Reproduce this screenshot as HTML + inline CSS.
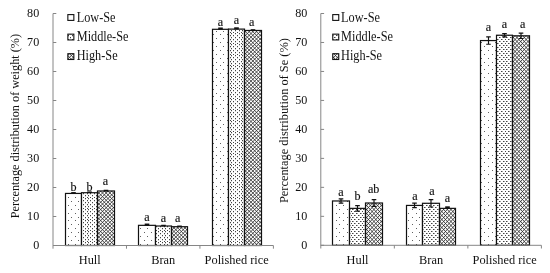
<!DOCTYPE html>
<html><head><meta charset="utf-8"><title>Percentage distribution</title>
<style>
html,body{margin:0;padding:0;background:#fff;}
svg{display:block}
text{font-family:"Liberation Serif","Times New Roman",serif;font-size:12.1px;fill:#111;}
.bl{stroke:#111;stroke-width:0.15px;}
</style></head><body>
<svg width="550" height="273" viewBox="0 0 550 273">
<defs>
<pattern id="L0" width="29" height="31" patternUnits="userSpaceOnUse" x="1" y="2"><rect width="29" height="31" fill="#fff"/><path d="M1,1h1v1h-1zM1,9h1v1h-1zM1,17h1v1h-1zM1,25h1v1h-1zM5,5h1v1h-1zM5,13h1v1h-1zM5,21h1v1h-1zM5,29h1v1h-1zM9,1h1v1h-1zM9,9h1v1h-1zM9,17h1v1h-1zM9,25h1v1h-1zM12,5h1v1h-1zM12,13h1v1h-1zM12,21h1v1h-1zM12,29h1v1h-1zM16,1h1v1h-1zM16,9h1v1h-1zM16,17h1v1h-1zM16,25h1v1h-1zM19,5h1v1h-1zM19,13h1v1h-1zM19,21h1v1h-1zM19,29h1v1h-1zM23,1h1v1h-1zM23,9h1v1h-1zM23,17h1v1h-1zM23,25h1v1h-1zM27,5h1v1h-1zM27,13h1v1h-1zM27,21h1v1h-1zM27,29h1v1h-1z" fill="#606060"/></pattern>
<pattern id="L1" width="11" height="11" patternUnits="userSpaceOnUse" x="0" y="0"><rect width="11" height="11" fill="#fff"/><path d="M0,0h1v1.2h-1zM0,4h1v1.2h-1zM0,8h1v1.2h-1zM2,2h1v1.2h-1zM2,6h1v1.2h-1zM2,10h1v1.2h-1zM4,0h1v1.2h-1zM4,4h1v1.2h-1zM4,8h1v1.2h-1zM6,2h1v1.2h-1zM6,6h1v1.2h-1zM6,10h1v1.2h-1zM8,0h1v1.2h-1zM8,4h1v1.2h-1zM8,8h1v1.2h-1zM10,2h1v1.2h-1zM10,6h1v1.2h-1zM10,10h1v1.2h-1z" fill="#444"/></pattern>
<pattern id="R0" width="29" height="31" patternUnits="userSpaceOnUse" x="1" y="2"><rect width="29" height="31" fill="#fff"/><path d="M1,1h1v1h-1zM1,9h1v1h-1zM1,17h1v1h-1zM1,25h1v1h-1zM5,5h1v1h-1zM5,13h1v1h-1zM5,21h1v1h-1zM5,29h1v1h-1zM9,1h1v1h-1zM9,9h1v1h-1zM9,17h1v1h-1zM9,25h1v1h-1zM12,5h1v1h-1zM12,13h1v1h-1zM12,21h1v1h-1zM12,29h1v1h-1zM16,1h1v1h-1zM16,9h1v1h-1zM16,17h1v1h-1zM16,25h1v1h-1zM19,5h1v1h-1zM19,13h1v1h-1zM19,21h1v1h-1zM19,29h1v1h-1zM23,1h1v1h-1zM23,9h1v1h-1zM23,17h1v1h-1zM23,25h1v1h-1zM27,5h1v1h-1zM27,13h1v1h-1zM27,21h1v1h-1zM27,29h1v1h-1z" fill="#606060"/></pattern>
<pattern id="R1" width="11" height="4" patternUnits="userSpaceOnUse" x="0" y="0"><rect width="11" height="4" fill="#fff"/><path d="M0,1h1.5v1h-1.5zM2,3h1.5v1h-1.5zM4,1h1.5v1h-1.5zM6,3h1.5v1h-1.5zM8,1h1.5v1h-1.5zM10,3h1.5v1h-1.5z" fill="#444"/></pattern></defs>
<rect width="550" height="273" fill="#fff"/>
<clipPath id="Lc"><rect x="97.50" y="190.98" width="17.00" height="54.52"/><rect x="171.50" y="226.71" width="16.00" height="18.79"/><rect x="244.50" y="30.47" width="17.00" height="215.03"/><rect x="67.85" y="53.70" width="6.0" height="5.8"/></clipPath><path d="M-185.33,11.50L53.00,249.83M-181.67,11.50L56.67,249.83M-178.00,11.50L60.33,249.83M-174.33,11.50L64.00,249.83M-170.67,11.50L67.67,249.83M-167.00,11.50L71.33,249.83M-163.33,11.50L75.00,249.83M-159.67,11.50L78.67,249.83M-156.00,11.50L82.33,249.83M-152.33,11.50L86.00,249.83M-148.67,11.50L89.67,249.83M-145.00,11.50L93.33,249.83M-141.33,11.50L97.00,249.83M-137.67,11.50L100.67,249.83M-134.00,11.50L104.33,249.83M-130.33,11.50L108.00,249.83M-126.67,11.50L111.67,249.83M-123.00,11.50L115.33,249.83M-119.33,11.50L119.00,249.83M-115.67,11.50L122.67,249.83M-112.00,11.50L126.33,249.83M-108.33,11.50L130.00,249.83M-104.67,11.50L133.67,249.83M-101.00,11.50L137.33,249.83M-97.33,11.50L141.00,249.83M-93.67,11.50L144.67,249.83M-90.00,11.50L148.33,249.83M-86.33,11.50L152.00,249.83M-82.67,11.50L155.67,249.83M-79.00,11.50L159.33,249.83M-75.33,11.50L163.00,249.83M-71.67,11.50L166.67,249.83M-68.00,11.50L170.33,249.83M-64.33,11.50L174.00,249.83M-60.67,11.50L177.67,249.83M-57.00,11.50L181.33,249.83M-53.33,11.50L185.00,249.83M-49.67,11.50L188.67,249.83M-46.00,11.50L192.33,249.83M-42.33,11.50L196.00,249.83M-38.67,11.50L199.67,249.83M-35.00,11.50L203.33,249.83M-31.33,11.50L207.00,249.83M-27.67,11.50L210.67,249.83M-24.00,11.50L214.33,249.83M-20.33,11.50L218.00,249.83M-16.67,11.50L221.67,249.83M-13.00,11.50L225.33,249.83M-9.33,11.50L229.00,249.83M-5.67,11.50L232.67,249.83M-2.00,11.50L236.33,249.83M1.67,11.50L240.00,249.83M5.33,11.50L243.67,249.83M9.00,11.50L247.33,249.83M12.67,11.50L251.00,249.83M16.33,11.50L254.67,249.83M20.00,11.50L258.33,249.83M23.67,11.50L262.00,249.83M27.33,11.50L265.67,249.83M31.00,11.50L269.33,249.83M34.67,11.50L273.00,249.83M38.33,11.50L276.67,249.83M42.00,11.50L280.33,249.83M45.67,11.50L284.00,249.83M49.33,11.50L287.67,249.83M53.00,11.50L291.33,249.83M53.00,11.50L-185.33,249.83M56.67,11.50L295.00,249.83M56.67,11.50L-181.67,249.83M60.33,11.50L298.67,249.83M60.33,11.50L-178.00,249.83M64.00,11.50L302.33,249.83M64.00,11.50L-174.33,249.83M67.67,11.50L306.00,249.83M67.67,11.50L-170.67,249.83M71.33,11.50L309.67,249.83M71.33,11.50L-167.00,249.83M75.00,11.50L313.33,249.83M75.00,11.50L-163.33,249.83M78.67,11.50L317.00,249.83M78.67,11.50L-159.67,249.83M82.33,11.50L320.67,249.83M82.33,11.50L-156.00,249.83M86.00,11.50L324.33,249.83M86.00,11.50L-152.33,249.83M89.67,11.50L328.00,249.83M89.67,11.50L-148.67,249.83M93.33,11.50L331.67,249.83M93.33,11.50L-145.00,249.83M97.00,11.50L335.33,249.83M97.00,11.50L-141.33,249.83M100.67,11.50L339.00,249.83M100.67,11.50L-137.67,249.83M104.33,11.50L342.67,249.83M104.33,11.50L-134.00,249.83M108.00,11.50L346.33,249.83M108.00,11.50L-130.33,249.83M111.67,11.50L350.00,249.83M111.67,11.50L-126.67,249.83M115.33,11.50L353.67,249.83M115.33,11.50L-123.00,249.83M119.00,11.50L357.33,249.83M119.00,11.50L-119.33,249.83M122.67,11.50L361.00,249.83M122.67,11.50L-115.67,249.83M126.33,11.50L364.67,249.83M126.33,11.50L-112.00,249.83M130.00,11.50L368.33,249.83M130.00,11.50L-108.33,249.83M133.67,11.50L372.00,249.83M133.67,11.50L-104.67,249.83M137.33,11.50L375.67,249.83M137.33,11.50L-101.00,249.83M141.00,11.50L379.33,249.83M141.00,11.50L-97.33,249.83M144.67,11.50L383.00,249.83M144.67,11.50L-93.67,249.83M148.33,11.50L386.67,249.83M148.33,11.50L-90.00,249.83M152.00,11.50L390.33,249.83M152.00,11.50L-86.33,249.83M155.67,11.50L394.00,249.83M155.67,11.50L-82.67,249.83M159.33,11.50L397.67,249.83M159.33,11.50L-79.00,249.83M163.00,11.50L401.33,249.83M163.00,11.50L-75.33,249.83M166.67,11.50L405.00,249.83M166.67,11.50L-71.67,249.83M170.33,11.50L408.67,249.83M170.33,11.50L-68.00,249.83M174.00,11.50L412.33,249.83M174.00,11.50L-64.33,249.83M177.67,11.50L416.00,249.83M177.67,11.50L-60.67,249.83M181.33,11.50L419.67,249.83M181.33,11.50L-57.00,249.83M185.00,11.50L423.33,249.83M185.00,11.50L-53.33,249.83M188.67,11.50L427.00,249.83M188.67,11.50L-49.67,249.83M192.33,11.50L430.67,249.83M192.33,11.50L-46.00,249.83M196.00,11.50L434.33,249.83M196.00,11.50L-42.33,249.83M199.67,11.50L438.00,249.83M199.67,11.50L-38.67,249.83M203.33,11.50L441.67,249.83M203.33,11.50L-35.00,249.83M207.00,11.50L445.33,249.83M207.00,11.50L-31.33,249.83M210.67,11.50L449.00,249.83M210.67,11.50L-27.67,249.83M214.33,11.50L452.67,249.83M214.33,11.50L-24.00,249.83M218.00,11.50L456.33,249.83M218.00,11.50L-20.33,249.83M221.67,11.50L460.00,249.83M221.67,11.50L-16.67,249.83M225.33,11.50L463.67,249.83M225.33,11.50L-13.00,249.83M229.00,11.50L467.33,249.83M229.00,11.50L-9.33,249.83M232.67,11.50L471.00,249.83M232.67,11.50L-5.67,249.83M236.33,11.50L474.67,249.83M236.33,11.50L-2.00,249.83M240.00,11.50L478.33,249.83M240.00,11.50L1.67,249.83M243.67,11.50L482.00,249.83M243.67,11.50L5.33,249.83M247.33,11.50L485.67,249.83M247.33,11.50L9.00,249.83M251.00,11.50L489.33,249.83M251.00,11.50L12.67,249.83M254.67,11.50L493.00,249.83M254.67,11.50L16.33,249.83M258.33,11.50L496.67,249.83M258.33,11.50L20.00,249.83M262.00,11.50L500.33,249.83M262.00,11.50L23.67,249.83M265.67,11.50L504.00,249.83M265.67,11.50L27.33,249.83M269.33,11.50L507.67,249.83M269.33,11.50L31.00,249.83M273.00,11.50L511.33,249.83M273.00,11.50L34.67,249.83M276.67,11.50L38.33,249.83M280.33,11.50L42.00,249.83M284.00,11.50L45.67,249.83M287.67,11.50L49.33,249.83M291.33,11.50L53.00,249.83M295.00,11.50L56.67,249.83M298.67,11.50L60.33,249.83M302.33,11.50L64.00,249.83M306.00,11.50L67.67,249.83M309.67,11.50L71.33,249.83M313.33,11.50L75.00,249.83M317.00,11.50L78.67,249.83M320.67,11.50L82.33,249.83M324.33,11.50L86.00,249.83M328.00,11.50L89.67,249.83M331.67,11.50L93.33,249.83M335.33,11.50L97.00,249.83M339.00,11.50L100.67,249.83M342.67,11.50L104.33,249.83M346.33,11.50L108.00,249.83M350.00,11.50L111.67,249.83M353.67,11.50L115.33,249.83M357.33,11.50L119.00,249.83M361.00,11.50L122.67,249.83M364.67,11.50L126.33,249.83M368.33,11.50L130.00,249.83M372.00,11.50L133.67,249.83M375.67,11.50L137.33,249.83M379.33,11.50L141.00,249.83M383.00,11.50L144.67,249.83M386.67,11.50L148.33,249.83M390.33,11.50L152.00,249.83M394.00,11.50L155.67,249.83M397.67,11.50L159.33,249.83M401.33,11.50L163.00,249.83M405.00,11.50L166.67,249.83M408.67,11.50L170.33,249.83M412.33,11.50L174.00,249.83M416.00,11.50L177.67,249.83M419.67,11.50L181.33,249.83M423.33,11.50L185.00,249.83M427.00,11.50L188.67,249.83M430.67,11.50L192.33,249.83M434.33,11.50L196.00,249.83M438.00,11.50L199.67,249.83M441.67,11.50L203.33,249.83M445.33,11.50L207.00,249.83M449.00,11.50L210.67,249.83M452.67,11.50L214.33,249.83M456.33,11.50L218.00,249.83M460.00,11.50L221.67,249.83M463.67,11.50L225.33,249.83M467.33,11.50L229.00,249.83M471.00,11.50L232.67,249.83M474.67,11.50L236.33,249.83M478.33,11.50L240.00,249.83M482.00,11.50L243.67,249.83M485.67,11.50L247.33,249.83M489.33,11.50L251.00,249.83M493.00,11.50L254.67,249.83M496.67,11.50L258.33,249.83M500.33,11.50L262.00,249.83M504.00,11.50L265.67,249.83M507.67,11.50L269.33,249.83M511.33,11.50L273.00,249.83" clip-path="url(#Lc)" stroke="#2a2a2a" stroke-width="0.85" fill="none"/>
<rect x="65.50" y="193.44" width="16.00" height="52.06" fill="url(#L0)" stroke="#111" stroke-width="1.2"/>
<rect x="71.20" y="192.06" width="4.6" height="1.74" fill="#111" stroke="none"/>
<text x="73.50" y="190.50" text-anchor="middle" class="bl">b</text>
<rect x="81.50" y="192.72" width="16.00" height="52.78" fill="url(#L1)" stroke="#111" stroke-width="1.2"/>
<rect x="87.20" y="191.42" width="4.6" height="1.65" fill="#111" stroke="none"/>
<text x="89.50" y="190.60" text-anchor="middle" class="bl">b</text>
<rect x="97.50" y="190.98" width="17.00" height="54.52" fill="none" stroke="#111" stroke-width="1.2"/>
<rect x="103.70" y="189.74" width="4.6" height="1.59" fill="#111" stroke="none"/>
<text x="105.50" y="184.90" text-anchor="middle" class="bl">a</text>
<rect x="138.50" y="225.34" width="17.00" height="20.16" fill="url(#L0)" stroke="#111" stroke-width="1.2"/>
<rect x="144.70" y="223.53" width="4.6" height="2.17" fill="#111" stroke="none"/>
<text x="147.00" y="220.50" text-anchor="middle" class="bl">a</text>
<rect x="155.50" y="226.01" width="16.00" height="19.49" fill="url(#L1)" stroke="#111" stroke-width="1.2"/>
<rect x="161.20" y="224.77" width="4.6" height="1.59" fill="#111" stroke="none"/>
<text x="163.50" y="222.20" text-anchor="middle" class="bl">a</text>
<rect x="171.50" y="226.71" width="16.00" height="18.79" fill="none" stroke="#111" stroke-width="1.2"/>
<rect x="177.20" y="225.53" width="4.6" height="1.53" fill="#111" stroke="none"/>
<text x="177.70" y="221.70" text-anchor="middle" class="bl">a</text>
<rect x="212.50" y="29.31" width="16.00" height="216.19" fill="url(#L0)" stroke="#111" stroke-width="1.2"/>
<rect x="218.20" y="27.49" width="4.6" height="2.17" fill="#111" stroke="none"/>
<text x="220.50" y="25.60" text-anchor="middle" class="bl">a</text>
<rect x="228.50" y="29.10" width="16.00" height="216.40" fill="url(#L1)" stroke="#111" stroke-width="1.2"/>
<rect x="234.20" y="27.28" width="4.6" height="2.17" fill="#111" stroke="none"/>
<text x="236.50" y="23.90" text-anchor="middle" class="bl">a</text>
<rect x="244.50" y="30.47" width="17.00" height="215.03" fill="none" stroke="#111" stroke-width="1.2"/>
<rect x="250.70" y="29.17" width="4.6" height="1.65" fill="#111" stroke="none"/>
<text x="251.80" y="26.20" text-anchor="middle" class="bl">a</text>
<path d="M53.0,13.5V248.7M53.0,245.5H273.4" stroke="#868686" stroke-width="1" fill="none"/>
<text x="39.2" y="249.05" text-anchor="end">0</text>
<text x="39.2" y="220.05" text-anchor="end">10</text>
<text x="39.2" y="191.05" text-anchor="end">20</text>
<text x="39.2" y="162.05" text-anchor="end">30</text>
<text x="39.2" y="133.05" text-anchor="end">40</text>
<text x="39.2" y="104.05" text-anchor="end">50</text>
<text x="39.2" y="75.05" text-anchor="end">60</text>
<text x="39.2" y="46.05" text-anchor="end">70</text>
<text x="39.2" y="17.05" text-anchor="end">80</text>
<path d="M53.0,245.50h3.3M53.0,216.50h3.3M53.0,187.50h3.3M53.0,158.50h3.3M53.0,129.50h3.3M53.0,100.50h3.3M53.0,71.50h3.3M53.0,42.50h3.3M53.0,13.50h3.3M126.47,245.5v3.2M199.93,245.5v3.2M273.40,245.5v3.2" stroke="#868686" stroke-width="1" fill="none"/>
<text x="89.73" y="264.0" text-anchor="middle" style="font-size:12.35px">Hull</text>
<text x="163.20" y="264.0" text-anchor="middle" style="font-size:12.35px">Bran</text>
<text x="236.67" y="264.0" text-anchor="middle" style="font-size:12.35px">Polished rice</text>
<text transform="translate(19.2,126.1) rotate(-90)" text-anchor="middle" style="font-size:12.25px">Percentage distribution of weight (%)</text>
<rect x="67.85" y="14.60" width="6.0" height="5.8" fill="#fff" stroke="#111" stroke-width="1.1"/>
<text transform="translate(76.75,22.25) scale(1,1.12)" style="font-size:12.25px">Low-Se</text>
<rect x="67.85" y="34.15" width="6.0" height="5.8" fill="url(#L1)" stroke="#111" stroke-width="1.1"/>
<text transform="translate(76.75,41.30) scale(1,1.12)" style="font-size:12.25px">Middle-Se</text>
<rect x="67.85" y="53.70" width="6.0" height="5.8" fill="none" stroke="#111" stroke-width="1.1"/>
<text transform="translate(76.75,60.35) scale(1,1.12)" style="font-size:12.25px">High-Se</text>
<clipPath id="Rc"><rect x="365.50" y="203.00" width="17.00" height="42.30"/><rect x="439.50" y="208.36" width="16.00" height="36.94"/><rect x="512.50" y="35.81" width="17.00" height="209.49"/><rect x="332.75" y="53.70" width="6.0" height="5.8"/></clipPath><path d="M104.47,11.50L320.80,247.50M108.13,11.50L324.47,247.50M111.80,11.50L328.13,247.50M115.47,11.50L331.80,247.50M119.13,11.50L335.47,247.50M122.80,11.50L339.13,247.50M126.47,11.50L342.80,247.50M130.13,11.50L346.47,247.50M133.80,11.50L350.13,247.50M137.47,11.50L353.80,247.50M141.13,11.50L357.47,247.50M144.80,11.50L361.13,247.50M148.47,11.50L364.80,247.50M152.13,11.50L368.47,247.50M155.80,11.50L372.13,247.50M159.47,11.50L375.80,247.50M163.13,11.50L379.47,247.50M166.80,11.50L383.13,247.50M170.47,11.50L386.80,247.50M174.13,11.50L390.47,247.50M177.80,11.50L394.13,247.50M181.47,11.50L397.80,247.50M185.13,11.50L401.47,247.50M188.80,11.50L405.13,247.50M192.47,11.50L408.80,247.50M196.13,11.50L412.47,247.50M199.80,11.50L416.13,247.50M203.47,11.50L419.80,247.50M207.13,11.50L423.47,247.50M210.80,11.50L427.13,247.50M214.47,11.50L430.80,247.50M218.13,11.50L434.47,247.50M221.80,11.50L438.13,247.50M225.47,11.50L441.80,247.50M229.13,11.50L445.47,247.50M232.80,11.50L449.13,247.50M236.47,11.50L452.80,247.50M240.13,11.50L456.47,247.50M243.80,11.50L460.13,247.50M247.47,11.50L463.80,247.50M251.13,11.50L467.47,247.50M254.80,11.50L471.13,247.50M258.47,11.50L474.80,247.50M262.13,11.50L478.47,247.50M265.80,11.50L482.13,247.50M269.47,11.50L485.80,247.50M273.13,11.50L489.47,247.50M276.80,11.50L493.13,247.50M280.47,11.50L496.80,247.50M284.13,11.50L500.47,247.50M287.80,11.50L504.13,247.50M291.47,11.50L507.80,247.50M295.13,11.50L511.47,247.50M298.80,11.50L515.13,247.50M302.47,11.50L518.80,247.50M306.13,11.50L522.47,247.50M309.80,11.50L526.13,247.50M313.47,11.50L529.80,247.50M317.13,11.50L533.47,247.50M320.80,11.50L537.13,247.50M320.80,11.50L104.47,247.50M324.47,11.50L540.80,247.50M324.47,11.50L108.13,247.50M328.13,11.50L544.47,247.50M328.13,11.50L111.80,247.50M331.80,11.50L548.13,247.50M331.80,11.50L115.47,247.50M335.47,11.50L551.80,247.50M335.47,11.50L119.13,247.50M339.13,11.50L555.47,247.50M339.13,11.50L122.80,247.50M342.80,11.50L559.13,247.50M342.80,11.50L126.47,247.50M346.47,11.50L562.80,247.50M346.47,11.50L130.13,247.50M350.13,11.50L566.47,247.50M350.13,11.50L133.80,247.50M353.80,11.50L570.13,247.50M353.80,11.50L137.47,247.50M357.47,11.50L573.80,247.50M357.47,11.50L141.13,247.50M361.13,11.50L577.47,247.50M361.13,11.50L144.80,247.50M364.80,11.50L581.13,247.50M364.80,11.50L148.47,247.50M368.47,11.50L584.80,247.50M368.47,11.50L152.13,247.50M372.13,11.50L588.47,247.50M372.13,11.50L155.80,247.50M375.80,11.50L592.13,247.50M375.80,11.50L159.47,247.50M379.47,11.50L595.80,247.50M379.47,11.50L163.13,247.50M383.13,11.50L599.47,247.50M383.13,11.50L166.80,247.50M386.80,11.50L603.13,247.50M386.80,11.50L170.47,247.50M390.47,11.50L606.80,247.50M390.47,11.50L174.13,247.50M394.13,11.50L610.47,247.50M394.13,11.50L177.80,247.50M397.80,11.50L614.13,247.50M397.80,11.50L181.47,247.50M401.47,11.50L617.80,247.50M401.47,11.50L185.13,247.50M405.13,11.50L621.47,247.50M405.13,11.50L188.80,247.50M408.80,11.50L625.13,247.50M408.80,11.50L192.47,247.50M412.47,11.50L628.80,247.50M412.47,11.50L196.13,247.50M416.13,11.50L632.47,247.50M416.13,11.50L199.80,247.50M419.80,11.50L636.13,247.50M419.80,11.50L203.47,247.50M423.47,11.50L639.80,247.50M423.47,11.50L207.13,247.50M427.13,11.50L643.47,247.50M427.13,11.50L210.80,247.50M430.80,11.50L647.13,247.50M430.80,11.50L214.47,247.50M434.47,11.50L650.80,247.50M434.47,11.50L218.13,247.50M438.13,11.50L654.47,247.50M438.13,11.50L221.80,247.50M441.80,11.50L658.13,247.50M441.80,11.50L225.47,247.50M445.47,11.50L661.80,247.50M445.47,11.50L229.13,247.50M449.13,11.50L665.47,247.50M449.13,11.50L232.80,247.50M452.80,11.50L669.13,247.50M452.80,11.50L236.47,247.50M456.47,11.50L672.80,247.50M456.47,11.50L240.13,247.50M460.13,11.50L676.47,247.50M460.13,11.50L243.80,247.50M463.80,11.50L680.13,247.50M463.80,11.50L247.47,247.50M467.47,11.50L683.80,247.50M467.47,11.50L251.13,247.50M471.13,11.50L687.47,247.50M471.13,11.50L254.80,247.50M474.80,11.50L691.13,247.50M474.80,11.50L258.47,247.50M478.47,11.50L694.80,247.50M478.47,11.50L262.13,247.50M482.13,11.50L698.47,247.50M482.13,11.50L265.80,247.50M485.80,11.50L702.13,247.50M485.80,11.50L269.47,247.50M489.47,11.50L705.80,247.50M489.47,11.50L273.13,247.50M493.13,11.50L709.47,247.50M493.13,11.50L276.80,247.50M496.80,11.50L713.13,247.50M496.80,11.50L280.47,247.50M500.47,11.50L716.80,247.50M500.47,11.50L284.13,247.50M504.13,11.50L720.47,247.50M504.13,11.50L287.80,247.50M507.80,11.50L724.13,247.50M507.80,11.50L291.47,247.50M511.47,11.50L727.80,247.50M511.47,11.50L295.13,247.50M515.13,11.50L731.47,247.50M515.13,11.50L298.80,247.50M518.80,11.50L735.13,247.50M518.80,11.50L302.47,247.50M522.47,11.50L738.80,247.50M522.47,11.50L306.13,247.50M526.13,11.50L742.47,247.50M526.13,11.50L309.80,247.50M529.80,11.50L746.13,247.50M529.80,11.50L313.47,247.50M533.47,11.50L749.80,247.50M533.47,11.50L317.13,247.50M537.13,11.50L753.47,247.50M537.13,11.50L320.80,247.50M540.80,11.50L757.13,247.50M540.80,11.50L324.47,247.50M544.47,11.50L328.13,247.50M548.13,11.50L331.80,247.50M551.80,11.50L335.47,247.50M555.47,11.50L339.13,247.50M559.13,11.50L342.80,247.50M562.80,11.50L346.47,247.50M566.47,11.50L350.13,247.50M570.13,11.50L353.80,247.50M573.80,11.50L357.47,247.50M577.47,11.50L361.13,247.50M581.13,11.50L364.80,247.50M584.80,11.50L368.47,247.50M588.47,11.50L372.13,247.50M592.13,11.50L375.80,247.50M595.80,11.50L379.47,247.50M599.47,11.50L383.13,247.50M603.13,11.50L386.80,247.50M606.80,11.50L390.47,247.50M610.47,11.50L394.13,247.50M614.13,11.50L397.80,247.50M617.80,11.50L401.47,247.50M621.47,11.50L405.13,247.50M625.13,11.50L408.80,247.50M628.80,11.50L412.47,247.50M632.47,11.50L416.13,247.50M636.13,11.50L419.80,247.50M639.80,11.50L423.47,247.50M643.47,11.50L427.13,247.50M647.13,11.50L430.80,247.50M650.80,11.50L434.47,247.50M654.47,11.50L438.13,247.50M658.13,11.50L441.80,247.50M661.80,11.50L445.47,247.50M665.47,11.50L449.13,247.50M669.13,11.50L452.80,247.50M672.80,11.50L456.47,247.50M676.47,11.50L460.13,247.50M680.13,11.50L463.80,247.50M683.80,11.50L467.47,247.50M687.47,11.50L471.13,247.50M691.13,11.50L474.80,247.50M694.80,11.50L478.47,247.50M698.47,11.50L482.13,247.50M702.13,11.50L485.80,247.50M705.80,11.50L489.47,247.50M709.47,11.50L493.13,247.50M713.13,11.50L496.80,247.50M716.80,11.50L500.47,247.50M720.47,11.50L504.13,247.50M724.13,11.50L507.80,247.50M727.80,11.50L511.47,247.50M731.47,11.50L515.13,247.50M735.13,11.50L518.80,247.50M738.80,11.50L522.47,247.50M742.47,11.50L526.13,247.50M746.13,11.50L529.80,247.50M749.80,11.50L533.47,247.50M753.47,11.50L537.13,247.50M757.13,11.50L540.80,247.50" clip-path="url(#Rc)" stroke="#2a2a2a" stroke-width="0.85" fill="none"/>
<rect x="332.50" y="200.97" width="17.00" height="44.33" fill="url(#R0)" stroke="#111" stroke-width="1.2"/>
<path d="M341.00,198.80V203.14M338.70,198.80h4.6M338.70,203.14h4.6" stroke="#111" stroke-width="1.15" fill="none"/>
<text x="341.00" y="195.80" text-anchor="middle" class="bl">a</text>
<rect x="349.50" y="208.36" width="16.00" height="36.94" fill="url(#R1)" stroke="#111" stroke-width="1.2"/>
<path d="M357.50,205.66V211.05M355.20,205.66h4.6M355.20,211.05h4.6" stroke="#111" stroke-width="1.15" fill="none"/>
<text x="357.50" y="199.50" text-anchor="middle" class="bl">b</text>
<rect x="365.50" y="203.00" width="17.00" height="42.30" fill="none" stroke="#111" stroke-width="1.2"/>
<path d="M374.00,199.61V206.39M371.70,199.61h4.6M371.70,206.39h4.6" stroke="#111" stroke-width="1.15" fill="none"/>
<text x="373.60" y="193.20" text-anchor="middle" class="bl">ab</text>
<rect x="406.50" y="205.43" width="16.00" height="39.87" fill="url(#R0)" stroke="#111" stroke-width="1.2"/>
<path d="M414.50,203.17V207.69M412.20,203.17h4.6M412.20,207.69h4.6" stroke="#111" stroke-width="1.15" fill="none"/>
<text x="414.90" y="199.60" text-anchor="middle" class="bl">a</text>
<rect x="422.50" y="203.29" width="17.00" height="42.01" fill="url(#R1)" stroke="#111" stroke-width="1.2"/>
<path d="M431.00,199.58V207.00M428.70,199.58h4.6M428.70,207.00h4.6" stroke="#111" stroke-width="1.15" fill="none"/>
<text x="432.00" y="195.30" text-anchor="middle" class="bl">a</text>
<rect x="439.50" y="208.36" width="16.00" height="36.94" fill="none" stroke="#111" stroke-width="1.2"/>
<rect x="445.20" y="206.31" width="4.6" height="2.40" fill="#111" stroke="none"/>
<text x="447.50" y="201.80" text-anchor="middle" class="bl">a</text>
<rect x="480.50" y="40.56" width="16.00" height="204.74" fill="url(#R0)" stroke="#111" stroke-width="1.2"/>
<path d="M488.50,36.91V44.21M486.20,36.91h4.6M486.20,44.21h4.6" stroke="#111" stroke-width="1.15" fill="none"/>
<text x="488.50" y="31.40" text-anchor="middle" class="bl">a</text>
<rect x="496.50" y="35.23" width="16.00" height="210.07" fill="url(#R1)" stroke="#111" stroke-width="1.2"/>
<path d="M504.50,33.55V36.91M502.20,33.55h4.6M502.20,36.91h4.6" stroke="#111" stroke-width="1.15" fill="none"/>
<text x="504.50" y="27.90" text-anchor="middle" class="bl">a</text>
<rect x="512.50" y="35.81" width="17.00" height="209.49" fill="none" stroke="#111" stroke-width="1.2"/>
<path d="M521.00,33.12V38.51M518.70,33.12h4.6M518.70,38.51h4.6" stroke="#111" stroke-width="1.15" fill="none"/>
<text x="522.80" y="27.90" text-anchor="middle" class="bl">a</text>
<path d="M320.8,13.5V248.5M320.8,245.3H541.4" stroke="#868686" stroke-width="1" fill="none"/>
<text x="307.3" y="248.85" text-anchor="end">0</text>
<text x="307.3" y="219.88" text-anchor="end">10</text>
<text x="307.3" y="190.90" text-anchor="end">20</text>
<text x="307.3" y="161.93" text-anchor="end">30</text>
<text x="307.3" y="132.95" text-anchor="end">40</text>
<text x="307.3" y="103.98" text-anchor="end">50</text>
<text x="307.3" y="75.00" text-anchor="end">60</text>
<text x="307.3" y="46.03" text-anchor="end">70</text>
<text x="307.3" y="17.05" text-anchor="end">80</text>
<path d="M320.8,245.30h3.3M320.8,216.33h3.3M320.8,187.35h3.3M320.8,158.38h3.3M320.8,129.40h3.3M320.8,100.43h3.3M320.8,71.45h3.3M320.8,42.48h3.3M320.8,13.50h3.3M394.33,245.3v3.2M467.87,245.3v3.2M541.40,245.3v3.2" stroke="#868686" stroke-width="1" fill="none"/>
<text x="357.57" y="264.0" text-anchor="middle" style="font-size:12.35px">Hull</text>
<text x="431.10" y="264.0" text-anchor="middle" style="font-size:12.35px">Bran</text>
<text x="504.63" y="264.0" text-anchor="middle" style="font-size:12.35px">Polished rice</text>
<text transform="translate(287.9,120.6) rotate(-90)" text-anchor="middle" style="font-size:12.38px">Percentage distribution of Se (%)</text>
<rect x="332.75" y="14.60" width="6.0" height="5.8" fill="#fff" stroke="#111" stroke-width="1.1"/>
<text transform="translate(341.05,22.25) scale(1,1.12)" style="font-size:12.3px">Low-Se</text>
<rect x="332.75" y="34.15" width="6.0" height="5.8" fill="url(#R1)" stroke="#111" stroke-width="1.1"/>
<text transform="translate(341.05,41.30) scale(1,1.12)" style="font-size:12.3px">Middle-Se</text>
<rect x="332.75" y="53.70" width="6.0" height="5.8" fill="none" stroke="#111" stroke-width="1.1"/>
<text transform="translate(341.05,60.35) scale(1,1.12)" style="font-size:12.3px">High-Se</text>
</svg>
</body></html>
